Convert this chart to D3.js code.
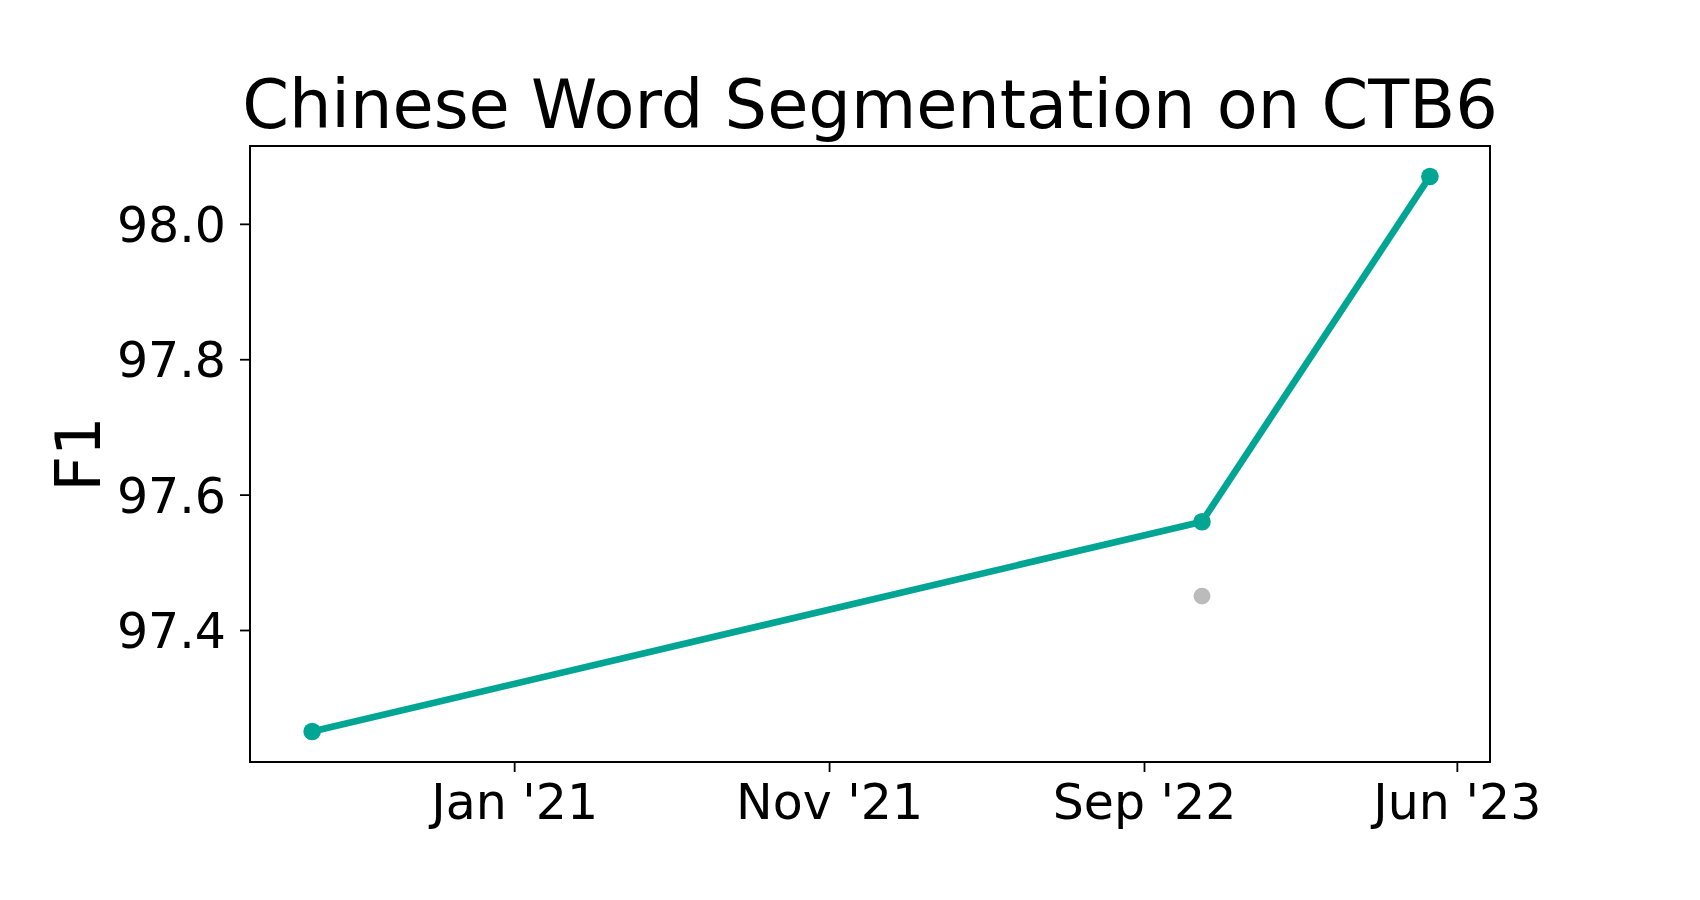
<!DOCTYPE html>
<html>
<head>
<meta charset="utf-8">
<script src="https://cdn.jsdelivr.net/npm/d3@7"></script>
<style>
  body { margin: 0; background: #fff; }
  text { font-family: "DejaVu Sans", sans-serif; fill: #000; }
</style>
</head>
<body>
<div id="chart"></div>
<script>
// data
var dates = ["2020-06-20", "2022-10-27", "2023-06-04"];
var f1 = [97.25, 97.56, 98.07];
var otherDates = ["2022-10-27"];
var otherF1 = [97.45];
var xTicks = ["2021-01-01", "2021-11-01", "2022-09-01", "2023-06-30"];
var yTicks = [97.4, 97.6, 97.8, 98.0];

var svgWidth = 1700, svgHeight = 900;
var margin = { top: 146, right: 210, bottom: 138, left: 250 };
var width = svgWidth - margin.left - margin.right;
var height = svgHeight - margin.top - margin.bottom;

var parse = d3.timeParse("%Y-%m-%d");
var best = dates.map((d, i) => ({ date: parse(d), value: f1[i] }));
var others = otherDates.map((d, i) => ({ date: parse(d), value: otherF1[i] }));

var svg = d3.select("#chart").append("svg")
  .attr("width", svgWidth)
  .attr("height", svgHeight);

var g = svg.append("g")
  .attr("transform", `translate(${margin.left}, ${margin.top})`);

var xScale = d3.scaleTime()
  .domain([parse("2020-04-21"), parse("2023-08-01")])
  .range([0, width]);

var yScale = d3.scaleLinear()
  .domain([97.205, 98.115])
  .range([height, 0]);

var bottomAxis = d3.axisBottom(xScale)
  .tickValues(xTicks.map(parse))
  .tickFormat(d3.timeFormat("%b '%y"))
  .tickSize(10)
  .tickPadding(12);

var leftAxis = d3.axisLeft(yScale)
  .tickValues(yTicks)
  .tickFormat(d3.format(".1f"))
  .tickSize(10)
  .tickPadding(14);

var xAxis = g.append("g")
  .attr("transform", `translate(0, ${height})`)
  .call(bottomAxis);

var yAxis = g.append("g").call(leftAxis);

[xAxis, yAxis].forEach(a => {
  a.select(".domain").remove();
  a.selectAll("line").attr("stroke", "#000").attr("stroke-width", 1.8);
  a.selectAll("text").style("font-size", "49px").attr("fill", "#000");
});
xAxis.selectAll("text").attr("dy", "0.71em");
yAxis.selectAll("text").attr("dy", "0.36em");

// frame
g.append("rect")
  .attr("width", width)
  .attr("height", height)
  .attr("fill", "none")
  .attr("stroke", "#000")
  .attr("stroke-width", 2);

// other (grey) result
g.selectAll(".other")
  .data(others)
  .enter()
  .append("circle")
  .attr("class", "other")
  .attr("cx", d => xScale(d.date))
  .attr("cy", d => yScale(d.value))
  .attr("r", 8.4)
  .attr("fill", "#bbbbbb");

// state of the art line
var line = d3.line()
  .x(d => xScale(d.date))
  .y(d => yScale(d.value));

g.append("path")
  .datum(best)
  .attr("d", line)
  .attr("fill", "none")
  .attr("stroke", "#00a693")
  .attr("stroke-width", 6.7)
  .attr("stroke-linejoin", "round");

g.selectAll(".best")
  .data(best)
  .enter()
  .append("circle")
  .attr("class", "best")
  .attr("cx", d => xScale(d.date))
  .attr("cy", d => yScale(d.value))
  .attr("r", 8.8)
  .attr("fill", "#00a693");

// title
svg.append("text")
  .attr("x", margin.left + width / 2)
  .attr("y", 128)
  .attr("text-anchor", "middle")
  .style("font-size", "67px")
  .text("Chinese Word Segmentation on CTB6");

// y label
svg.append("text")
  .attr("transform", `translate(100, ${margin.top + height / 2}) rotate(-90)`)
  .attr("text-anchor", "middle")
  .style("font-size", "62px")
  .text("F1");
</script>
</body>
</html>
